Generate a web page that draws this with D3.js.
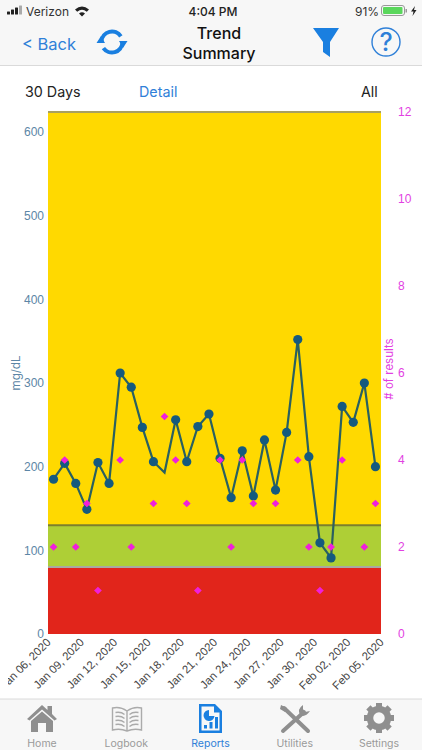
<!DOCTYPE html>
<html>
<head>
<meta charset="utf-8">
<script src="https://cdn.jsdelivr.net/npm/d3@7"></script>
<style>
html, body { margin: 0; padding: 0; background: #fff; }
svg { display: block; font-family: Inter, "Liberation Sans", sans-serif; }
</style>
</head>
<body>
<svg width="422" height="750"></svg>
<script>
var days = ["2020-01-06","2020-01-07","2020-01-08","2020-01-09","2020-01-10","2020-01-11","2020-01-12","2020-01-13","2020-01-14","2020-01-15",
  "2020-01-16","2020-01-17","2020-01-18","2020-01-19","2020-01-20","2020-01-21","2020-01-22","2020-01-23","2020-01-24","2020-01-25",
  "2020-01-26","2020-01-27","2020-01-28","2020-01-29","2020-01-30","2020-01-31","2020-02-01","2020-02-02","2020-02-03","2020-02-04"];
var glucose = [185,204,180,149,205,180,312,295,247,206,193,256,206,248,263,210,163,219,165,232,172,241,352,212,109,91,272,253,300,200];
var counts = [2,4,2,3,1,null,4,2,null,3,5,4,3,1,null,4,2,4,3,null,3,null,4,2,1,2,4,null,2,3];
var noDot = ["2020-01-16"];  // the line bends here but no dot is drawn
var leftTicks = [0,100,200,300,400,500,600];
var rightTicks = [0,2,4,6,8,10,12];
var dateTicks = ["2020-01-06","2020-01-09","2020-01-12","2020-01-15","2020-01-18","2020-01-21","2020-01-24","2020-01-27","2020-01-30","2020-02-02","2020-02-05"];
var zoneNames = ["low","target","high"];
var zoneFloor = [0,80,130];
var zoneCeil = [80,130,624];
var zoneColors = ["#E1251B","#AECF36","#FFD900"];
var zoneLines = [80,130,624];
var zoneLineColors = ["#A9A9A0","#7C7F2E","#A8A060"];
var tabs = ["Home","Logbook","Reports","Utilities","Settings"];

var BLUE = "#2F80D8", PINK = "#F01FDB";
var plotL = 48, plotR = 381, plotT = 112, plotB = 634;
var svg = d3.select("svg");
var parse = d3.utcParse("%Y-%m-%d");

var x = d3.scaleBand().domain(days).range([plotL, plotR]);
var xTime = d3.scaleUtc().domain([parse(dateTicks[0]), parse(dateTicks[dateTicks.length - 1])]).range([plotL, plotR]);
var y = d3.scaleLinear().domain([0, 624]).range([plotB, plotT]);
var yCount = d3.scaleLinear().domain([0, 12]).range([plotB, plotT]);
var cx = function (d) { return x(d) + x.bandwidth() / 2; };

// zones
svg.append("g").selectAll("rect").data(zoneNames).join("rect")
  .attr("x", plotL).attr("width", plotR - plotL)
  .attr("y", function (d, i) { return y(zoneCeil[i]); })
  .attr("height", function (d, i) { return y(zoneFloor[i]) - y(zoneCeil[i]); })
  .attr("fill", function (d, i) { return zoneColors[i]; });
svg.append("g").selectAll("line").data(zoneLines).join("line")
  .attr("x1", plotL).attr("x2", plotR)
  .attr("y1", function (d) { return y(d); }).attr("y2", function (d) { return y(d); })
  .attr("stroke", function (d, i) { return zoneLineColors[i]; })
  .attr("stroke-width", 2);

// axes
var styleAxis = function (g, color) {
  g.select(".domain").remove();
  g.selectAll("text").attr("fill", color).style("font-size", "12px");
};
svg.append("g").attr("transform", "translate(" + plotL + ",0)")
  .call(d3.axisLeft(y).tickValues(leftTicks).tickSize(0).tickPadding(4))
  .call(styleAxis, "#5C86A6");
svg.append("g").attr("transform", "translate(" + plotR + ",0)")
  .call(d3.axisRight(yCount).tickValues(rightTicks).tickSize(0).tickPadding(17))
  .call(styleAxis, "#E23FE2");

svg.append("clipPath").attr("id", "xclip").append("rect")
  .attr("x", 8).attr("y", 630).attr("width", 414).attr("height", 69);
svg.append("g").attr("clip-path", "url(#xclip)")
  .append("g").attr("transform", "translate(0," + plotB + ")")
  .call(d3.axisBottom(xTime).tickValues(dateTicks.map(parse)).tickSize(0).tickFormat(d3.utcFormat("%b %d, %Y")))
  .call(function (g) {
    g.select(".domain").remove();
    g.selectAll("text")
      .attr("fill", "#444").style("font-size", "11.4px")
      .attr("text-anchor", "end")
      .attr("dy", 0).attr("y", 0)
      .attr("transform", "translate(3,9) rotate(-45)");
  });

svg.append("text").attr("transform", "translate(20,373) rotate(-90)")
  .attr("text-anchor", "middle").attr("fill", "#5C86A6").style("font-size", "11.5px").text("mg/dL");
svg.append("text").attr("transform", "translate(393,369) rotate(-90)")
  .attr("text-anchor", "middle").attr("fill", "#E23FE2").style("font-size", "11.5px").text("# of results");

// glucose line, dots, then result counts on top
var line = d3.line().x(function (d) { return cx(d); }).y(function (d, i) { return y(glucose[i]); });
svg.append("path").attr("d", line(days)).attr("fill", "none").attr("stroke", "#2A6060").attr("stroke-width", 2.2);
svg.append("g").selectAll("circle")
  .data(days.filter(function (d) { return noDot.indexOf(d) < 0; })).join("circle")
  .attr("cx", function (d) { return cx(d); })
  .attr("cy", function (d) { return y(glucose[days.indexOf(d)]); })
  .attr("r", 4.6).attr("fill", "#155A7E");
var diamond = d3.symbol().type(d3.symbolSquare).size(30);
svg.append("g").selectAll("path")
  .data(days.filter(function (d, i) { return counts[i] !== null; })).join("path")
  .attr("d", diamond)
  .attr("transform", function (d) { return "translate(" + cx(d) + "," + yCount(counts[days.indexOf(d)]) + ") rotate(45)"; })
  .attr("fill", PINK);

// header
svg.insert("rect", ":first-child").attr("width", 422).attr("height", 65).attr("fill", "#F7F7F7");
svg.append("line").attr("x1", 0).attr("x2", 422).attr("y1", 65.5).attr("y2", 65.5).attr("stroke", "#DADADA");

var addText = function (s, px, py, size, color, anchor, weight) {
  return svg.append("text").attr("x", px).attr("y", py).text(s)
    .attr("fill", color).attr("text-anchor", anchor || "start")
    .attr("font-weight", weight || 400).style("font-size", size + "px");
};

// status bar
[[7,3],[11,5],[15,7],[19,9]].forEach(function (b, i) {
  svg.append("rect").attr("x", b[0]).attr("y", 14.5 - b[1]).attr("width", 3).attr("height", b[1]).attr("rx", 0.5)
    .attr("fill", i < 3 ? "#222" : "#AAA");
});
addText("Verizon", 26, 16, 12, "#333");
svg.append("path").attr("d", "M75 9.5 Q82 3.5 89 9.5 L86.8 11.8 Q82 7.8 77.2 11.8Z M79 13.5 Q82 11 85 13.5 L82 16.5Z").attr("fill", "#222");
addText("4:04 PM", 213, 16, 12, "#222", "middle", 500);
addText("91%", 355, 16, 12, "#333");
svg.append("rect").attr("x", 381.5).attr("y", 5.5).attr("width", 23).attr("height", 10).attr("rx", 2.5).attr("fill", "none").attr("stroke", "#999");
svg.append("rect").attr("x", 383).attr("y", 7).attr("width", 19.5).attr("height", 7).attr("rx", 1).attr("fill", "#5AD75C");
svg.append("rect").attr("x", 405.5).attr("y", 9).attr("width", 1.5).attr("height", 3.5).attr("fill", "#999");
svg.append("path").attr("d", "M415 6 L411 11.5 L413.5 11.5 L412.5 16 L416.5 10 L414 10Z").attr("fill", "#222");

// nav bar
addText("< Back", 22, 50, 16.5, BLUE);
addText("Trend", 219, 39, 16, "#111", "middle", 500);
addText("Summary", 219, 59, 16, "#111", "middle", 500);
var arc = d3.arc().innerRadius(8.5).outerRadius(12.5);
var refresh = svg.append("g").attr("transform", "translate(112,42)").attr("fill", "#1A7FE0");
refresh.append("path").attr("d", arc({ startAngle: -1.5, endAngle: 1.0 }));
refresh.append("path").attr("d", arc({ startAngle: 1.64, endAngle: 4.1 }));
refresh.append("path").attr("d", "M7 -1 L15.5 -1 L11 6Z M-7 1 L-15.5 1 L-11 -6Z");
svg.append("path").attr("d", "M313 28 L339 28 L330 42 L330 57 L323 52 L323 42Z").attr("fill", "#1A7FE0");
svg.append("circle").attr("cx", 386).attr("cy", 42).attr("r", 14).attr("fill", "none").attr("stroke", BLUE).attr("stroke-width", 1.4);
addText("?", 386, 51, 25, BLUE, "middle", 500);

addText("30 Days", 25, 97, 14.3, "#222");
addText("Detail", 139, 97, 14.3, BLUE);
addText("All", 361, 97, 14.3, "#222");

// tab bar
svg.append("rect").attr("y", 699).attr("width", 422).attr("height", 51).attr("fill", "#F7F7F7");
svg.append("line").attr("x1", 0).attr("x2", 422).attr("y1", 699).attr("y2", 699).attr("stroke", "#DADADA");
var tabX = d3.scalePoint().domain(tabs).range([42, 379]);
svg.append("g").selectAll("text").data(tabs).join("text")
  .attr("x", function (d) { return tabX(d); }).attr("y", 747)
  .attr("text-anchor", "middle").style("font-size", "10.5px")
  .attr("fill", function (d) { return d === "Reports" ? BLUE : "#9A9A9A"; })
  .text(function (d) { return d; });

// home
svg.append("path").attr("fill", "#8F8F8F")
  .attr("d", "M42 705 L47.5 710 L47.5 706 L52 706 L52 714 L57 719 L54.5 720.5 L42 709.5 L29.5 720.5 L27 719Z M31 721 L42 711.5 L53 721 L53 732 L46 732 L46 723 L38 723 L38 732 L31 732Z");
// logbook
var book = svg.append("g").attr("fill", "none").attr("stroke", "#ABABAB").attr("stroke-width", 1.4);
book.append("path").attr("d", "M127 711 Q120 706 112.5 708 L112.5 730 Q120 728 127 731 Q134 728 141.5 730 L141.5 708 Q134 706 127 711 L127 731");
d3.range(4).forEach(function (i) {
  var yy = 712.5 + i * 4;
  book.append("path").attr("d", "M115.5 " + yy + " Q121 " + (yy - 1) + " 124.5 " + (yy + 2) + " M129.5 " + (yy + 2) + " Q133 " + (yy - 1) + " 138.5 " + yy);
});
// reports
svg.append("path").attr("fill", "#1A7FE0").attr("fill-rule", "evenodd")
  .attr("d", "M199 704 L215 704 L222 711 L222 733 L199 733Z M201.5 706.5 L201.5 730.5 L219.5 730.5 L219.5 712.5 L214 712.5 L214 706.5Z");
svg.append("path").attr("fill", "#1A7FE0").attr("d", "M209 710 A5.5 5.5 0 1 0 214.5 716 L209 716Z");
svg.append("rect").attr("x", 204).attr("y", 725).attr("width", 3).attr("height", 3.5).attr("fill", "#1A7FE0");
svg.append("rect").attr("x", 209.5).attr("y", 722).attr("width", 3).attr("height", 6.5).attr("fill", "#1A7FE0");
svg.append("rect").attr("x", 215).attr("y", 717).attr("width", 3).attr("height", 11.5).attr("fill", "#1A7FE0");
// utilities
svg.append("path").attr("stroke", "#8F8F8F").attr("stroke-width", 4).attr("fill", "none").attr("stroke-linecap", "round")
  .attr("d", "M284 708 L308 731 M304 712 L283 731");
svg.append("path").attr("fill", "#8F8F8F").attr("d", "M303 705 Q297 709 300 715 Q305 718 310 711 L305 712 L303 709Z M281 705 L287 708 L285 712 L280 709Z");
// settings
var gear = svg.append("g").attr("transform", "translate(379,718)");
gear.append("circle").attr("r", 9).attr("fill", "none").attr("stroke", "#8F8F8F").attr("stroke-width", 6.5);
d3.range(8).forEach(function (i) {
  gear.append("rect").attr("x", -3).attr("y", -15).attr("width", 6).attr("height", 5.5)
    .attr("fill", "#8F8F8F").attr("transform", "rotate(" + (i * 45) + ")");
});
</script>
</body>
</html>
